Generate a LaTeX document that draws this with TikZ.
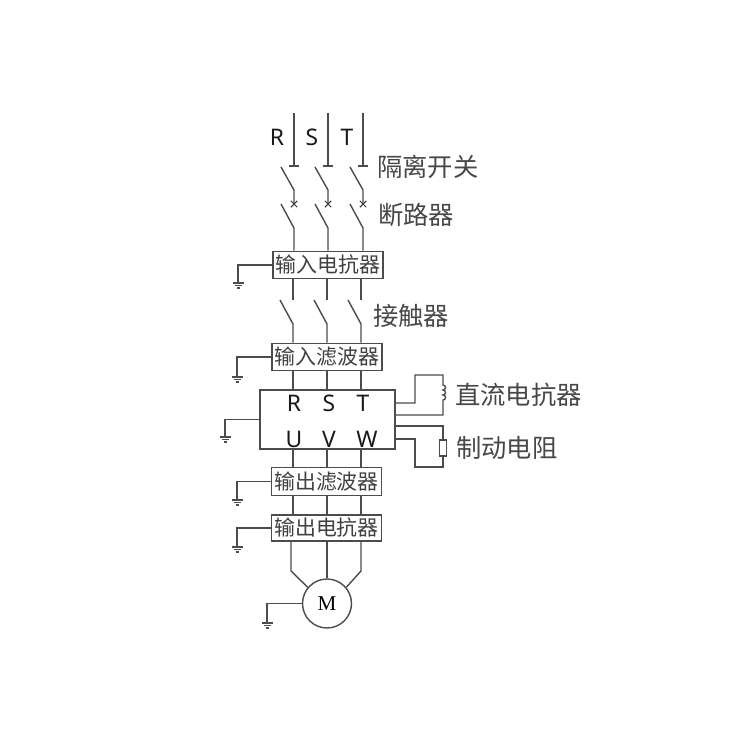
\documentclass[tikz,border=0pt]{standalone}
\usepackage{fontspec}
\setmainfont{Noto Sans}
\newfontfamily\cjk{Noto Sans CJK SC}
\newfontfamily\serifm{Liberation Serif}
\usetikzlibrary{shapes.misc}

\tikzset{
  wire/.style={draw=black!70,line width=0.8pt},
  unit box/.style={draw=black!70,line width=0.8pt,fill=white,inner sep=0pt,
    minimum width=2.2cm,minimum height=0.55cm,text=black!75,font=\cjk\fontsize{11.9}{12}\selectfont},
  side label/.style={anchor=west,inner sep=0pt,text=black!72,font=\cjk\fontsize{14.4}{15}\selectfont},
  phase label/.style={inner sep=0pt,text=black!90,font=\fontsize{13}{14}\selectfont},
  trip mark/.style={cross out,draw=black!80,line width=0.6pt,inner sep=0pt,minimum size=3pt},
  gnd/.pic={
    \draw[wire] (-5.5,0) -- (5.5,0);
    \draw[wire] (-3.5,2.5) -- (3.5,2.5);
    \draw[wire] (-1.5,5) -- (1.5,5);
  }
}

\begin{document}
\begin{tikzpicture}[x=0.02cm,y=-0.02cm]
  \useasboundingbox (0,0) rectangle (750,750);

  % units
  \node[unit box] (inreactor) at (328,265) {输入电抗器};
  \node[unit box] (infilter) at (327,357) {输入滤波器};
  \node[unit box,minimum width=2.7cm,minimum height=1.18cm] (vfd) at (327.5,419.5) {};
  \node[unit box] (outfilter) at (326.5,481.5) {输出滤波器};
  \node[unit box,minimum height=0.52cm] (outreactor) at (326.5,528) {输出电抗器};
  \node[circle,draw=black!70,line width=0.8pt,minimum size=0.98cm,inner sep=0pt,
    font=\serifm\fontsize{12}{13}\selectfont] (motor) at (327,603.5) {M};

  % labels
  \node[phase label] (lr) at (277,137) {R};
  \node[phase label] (ls) at (312,137) {S};
  \node[phase label] (lt) at (347,137) {T};
  \node[phase label] (ir) at (294,403) {R};
  \node[phase label] (is) at (329,403) {S};
  \node[phase label] (it) at (363,403) {T};
  \node[phase label] (iu) at (294,439) {U};
  \node[phase label] (iv) at (329,439) {V};
  \node[phase label] (iw) at (367,439) {W};
  \node[side label] (isolator) at (377,167) {隔离开关};
  \node[side label] (breaker) at (378,215) {断路器};
  \node[side label] (contactor) at (373,316) {接触器};
  \node[side label] (dcreactor) at (455,395) {直流电抗器};
  \node[side label] (brakeres) at (456,448) {制动电阻};

  % upper switches
  \foreach \p/\x in {r/294,s/328,t/363} {
    \coordinate (top\p) at (\x,113);
    \coordinate (bar\p) at (\x,166);
    \coordinate (barl\p) at (\x-5,166);
    \coordinate (barr\p) at (\x+5,166);
    \coordinate (qa\p) at (\x-13,167);
    \coordinate (qb\p) at (\x,190);
    \node[trip mark] (qm\p) at (\x,204) {};
    \coordinate (ka\p) at (\x-13,204);
    \coordinate (kb\p) at (\x,228);
    \draw[wire] (top\p) -- (bar\p);
    \draw[wire] (barl\p) -- (barr\p);
    \draw[wire] (qa\p) -- (qb\p) -- (qm\p.center);
    \draw[wire] (ka\p) -- (kb\p) -- (kb\p |- inreactor.north);
  }

  % contactor and the lines below it
  \foreach \p/\x in {r/293,s/327,t/361} {
    \coordinate (ca\p) at (\x,300);
    \coordinate (cs\p) at (\x-13,300);
    \coordinate (cb\p) at (\x,324);
    \coordinate (ph\p) at (\x,449);
    \draw[wire] (ca\p |- inreactor.south) -- (ca\p);
    \draw[wire] (cs\p) -- (cb\p) -- (cb\p |- infilter.north);
    \draw[wire] (ph\p |- infilter.south) -- (ph\p |- vfd.north);
    \draw[wire] (ph\p |- vfd.south) -- (ph\p |- outfilter.north);
    \draw[wire] (ph\p |- outfilter.south) -- (ph\p |- outreactor.north);
  }

  % motor leads
  \coordinate (mr) at (291,571);
  \coordinate (mt) at (361,571);
  \draw[wire] (mr |- outreactor.south) -- (mr) -- (motor.140);
  \draw[wire] (motor.north |- outreactor.south) -- (motor.north);
  \draw[wire] (mt |- outreactor.south) -- (mt) -- (motor.40);

  % dc reactor
  \coordinate (da) at (395,403);
  \coordinate (db) at (415,375);
  \coordinate (dc) at (443,375);
  \coordinate (dd) at (443,385);
  \coordinate (df) at (443,415);
  \coordinate (dg) at (395,415);
  \draw[wire] (da) -| (db) -- (dc) -- (dd)
    arc[start angle=-90,end angle=90,radius=2.5]
    arc[start angle=-90,end angle=90,radius=2.5]
    arc[start angle=-90,end angle=90,radius=2.5]
    -- (df) -- (dg);

  % brake resistor
  \node[draw=black!70,line width=0.8pt,minimum width=0.14cm,minimum height=0.32cm,inner sep=0pt] (rb) at (443,448) {};
  \coordinate (ra) at (395,426);
  \coordinate (rc) at (395,439);
  \coordinate (rd) at (415,467);
  \draw[wire] (ra) -| (rb.north);
  \draw[wire] (rc) -| (rd) -| (rb.south);

  % grounds
  \coordinate (g1) at (238,283);
  \coordinate (g2) at (237,377);
  \coordinate (g3) at (225,437);
  \coordinate (g4) at (237,500);
  \coordinate (g5) at (237,547);
  \coordinate (g6) at (267,623);
  \draw[wire] (inreactor.west) -| (g1);
  \draw[wire] (infilter.west) -| (g2);
  \draw[wire] (vfd.west) -| (g3);
  \draw[wire] (outfilter.west) -| (g4);
  \draw[wire] (outreactor.west) -| (g5);
  \draw[wire] (motor.west) -| (g6);
  \foreach \g in {g1,g2,g3,g4,g5,g6}
    \pic at (\g) {gnd};

\end{tikzpicture}
\end{document}
